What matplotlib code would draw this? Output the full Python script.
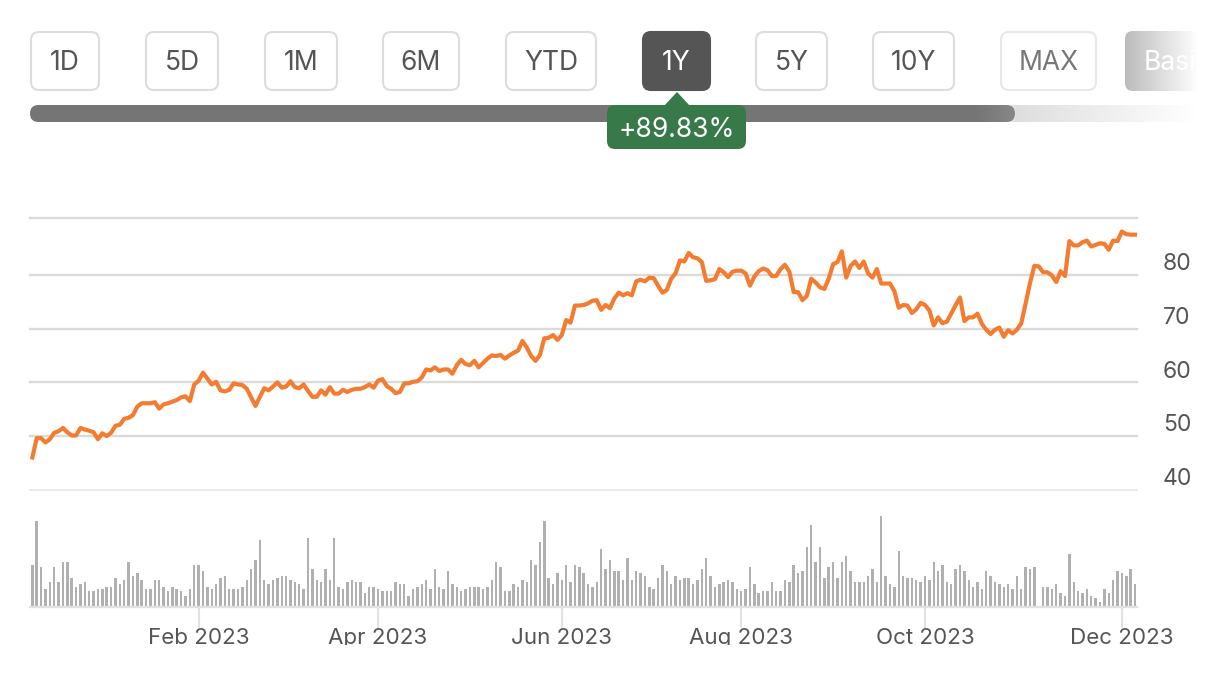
import numpy as np
import matplotlib
matplotlib.use('Agg')
import matplotlib.pyplot as plt
from matplotlib.patches import FancyBboxPatch, Polygon
from matplotlib.transforms import Bbox, ScaledTranslation

plt.rcParams['font.family'] = ['Inter', 'DejaVu Sans']

W, H = 1228, 674

close = [
    46.0, 49.6, 49.6, 48.8, 49.4, 50.6, 50.9, 51.5, 50.7, 50.1, 50.1, 51.5, 51.2, 51.0, 50.7, 49.4, 50.5,
    50.0, 50.6, 51.9, 52.1, 53.2, 53.4, 53.9, 55.5, 56.1, 56.1, 56.1, 56.3, 55.1, 55.9, 56.1, 56.4, 56.7,
    57.2, 57.4, 56.5, 59.6, 60.3, 61.8, 60.7, 59.6, 60.1, 58.5, 58.3, 58.6, 59.8, 59.6, 59.5, 58.8, 57.2,
    55.6, 57.3, 58.9, 58.5, 59.2, 60.0, 59.0, 59.2, 60.2, 59.1, 58.9, 59.6, 58.4, 57.3, 57.3, 58.5,
    57.7, 59.1, 57.9, 57.9, 58.6, 58.2, 58.6, 58.8, 58.8, 59.1, 59.6, 59.0, 60.3, 60.6, 59.3, 58.8, 58.0,
    58.2, 59.8, 59.8, 60.1, 60.2, 60.9, 62.4, 62.2, 62.8, 62.1, 62.4, 62.4, 61.6, 63.2, 64.2, 63.4, 63.2,
    64.0, 62.8, 63.6, 64.4, 65.0, 64.9, 65.1, 64.4, 65.0, 65.5, 65.9, 67.7, 66.5, 64.9, 64.0, 65.1, 68.2,
    68.3, 68.8, 67.9, 68.8, 71.6, 71.1, 74.3, 74.3, 74.4, 74.7, 75.2, 75.3, 73.5,
    74.4, 73.8, 75.6, 76.7, 76.2, 76.6, 76.2, 78.8, 79.1, 78.8, 79.5, 79.4, 78.0, 76.7, 77.2, 79.3, 80.3,
    82.7, 82.5, 84.1, 83.3, 83.1, 82.4, 78.9, 79.0, 79.2, 81.1, 80.5, 79.6, 80.6, 80.8, 80.8, 80.3, 78.0,
    79.7, 80.7, 81.2, 80.9, 79.8, 79.8, 81.1, 81.9, 80.6, 76.8, 76.8, 75.3, 76.1, 79.3, 78.6, 77.7, 77.4,
    79.3, 82.0, 82.4, 84.4, 79.5, 81.7, 82.5, 81.3, 82.5, 80.3, 79.5, 81.1, 78.4, 78.4, 78.4, 77.0, 73.9,
    74.4, 74.3, 72.9, 73.6, 74.8, 74.4, 73.4, 70.6, 72.1, 71.0, 71.3, 72.8, 74.4, 75.8, 71.4, 72.1, 72.1,
    72.8, 70.9, 69.8, 69.0, 69.8, 70.2, 68.5, 69.7, 69.1, 69.8, 71.0, 74.7, 78.5, 81.7, 81.6, 80.5, 80.5,
    79.9, 78.7, 80.7, 79.8, 86.3, 85.5, 85.5, 86.1, 86.4, 85.3, 85.6, 85.9, 85.8, 84.7, 86.4, 86.3, 88.1,
    87.6, 87.5, 87.5,
]

volume = [
    125, 258, 120, 53, 73, 120, 73, 133, 133, 86, 60, 67, 73, 47, 47, 53, 53, 60, 60, 86, 67, 80, 133, 93,
    100, 80, 53, 53, 80, 80, 60, 47, 60, 53, 47, 33, 53, 126, 126, 106, 60, 53, 67, 86, 93, 53, 53, 53, 60,
    80, 113, 140, 199, 80, 67, 80, 86, 93, 93, 80, 73, 67, 53, 206, 113, 80,
    73, 113, 80, 206, 60, 53, 73, 80, 73, 73, 40, 60, 60, 53, 47, 47, 47, 73, 67, 67, 33, 53, 60, 67, 80,
    53, 113, 60, 53, 106, 67, 60, 47, 53, 60, 60, 60, 53, 60, 80, 133, 120, 47, 47, 67, 60, 80, 73, 140,
    126, 193, 258, 86, 67, 100, 80, 126, 73, 126, 120, 100, 67, 60, 73, 173, 113, 140, 106, 106,
    80, 146, 80, 106, 100, 93, 60, 53, 86, 126, 106, 67, 93, 80, 86, 86, 67, 80, 113, 146, 93, 60, 67, 73,
    80, 73, 53, 47, 53, 120, 67, 40, 47, 47, 73, 47, 47, 80, 73, 126, 100, 106, 179, 245, 133, 179, 86, 120,
    133, 86, 133, 153, 106, 73, 73, 73, 93, 113, 73, 271, 93, 67, 60, 166, 93, 86, 86, 80, 73,
    93, 80, 133, 106, 126, 73, 67, 113, 126, 106, 80, 60, 73, 53, 106, 93, 73, 67, 60, 67, 53, 93, 53, 120,
    113, 120, 0, 60, 60, 53, 67, 40, 33, 159, 73, 47, 40, 53, 33, 27, 13, 53, 40, 80, 106, 100, 93, 113, 67,
]

# the top gridline sits a bit above 90 in the original
price_ticks = [40, 50, 60, 70, 80, 90.7]
price_labels = ['40', '50', '60', '70', '80', '']
month_ticks = [38, 79, 121, 162, 204, 249]
month_labels = ['Feb 2023', 'Apr 2023', 'Jun 2023', 'Aug 2023', 'Oct 2023', 'Dec 2023']

range_names = ['1D', '5D', '1M', '6M', 'YTD', '1Y', '5Y', '10Y', 'MAX']
range_left = [30, 145, 264, 382, 505, 642, 755, 872, 1000]
range_right = [100, 219, 338, 460, 597, 711, 828, 955, 1097]
selected = '1Y'
change_text = '+89.83%'

TEXT = '#555555'
GRID = '#dadada'
ORANGE = '#f47c30'
GREEN = '#38794a'


def px_rect(x0, y0, x1, y1):
    return [x0 / W, 1 - y1 / H, (x1 - x0) / W, (y1 - y0) / H]


def gradient(ax, extent, rgb, a0, a1, zorder):
    grad = np.zeros((1, 256, 4))
    grad[..., :3] = rgb
    grad[..., 3] = np.linspace(a0, a1, 256)
    return ax.imshow(grad, extent=extent, aspect='auto', zorder=zorder, interpolation='bilinear')


fig = plt.figure(figsize=(W / 100, H / 100), dpi=100, facecolor='white')
xlim = (-0.53, 252.45)

# price panel
ax = fig.add_axes(px_rect(30, 217.5, 1137, 489.7))
ax.patch.set_alpha(0)
ax.set_xlim(*xlim)
ax.set_ylim(40, 90.7)
ax.plot(range(len(close)), close, color=ORANGE, lw=3.0, solid_joinstyle='round', zorder=3, clip_on=False)
for s in ax.spines.values():
    s.set_visible(False)
ax.set_xticks([])
ax.yaxis.tick_right()
ax.set_yticks(price_ticks)
ax.set_yticklabels(price_labels)
ax.tick_params(axis='y', length=0, pad=18.5, labelsize=16.5, labelcolor=TEXT)
ax.grid(axis='y', color=GRID, lw=1.7, zorder=1)
for line in ax.get_ygridlines():
    line.set_clip_on(False)
ax.get_ygridlines()[0].set_color('#e6e6e6')
ax.get_ygridlines()[0].set_linewidth(1.2)
shift = ScaledTranslation(0, 9.5 / 72, fig.dpi_scale_trans)
for lab in ax.get_yticklabels():
    lab.set_transform(lab.get_transform() + shift)

# volume panel
vax = fig.add_axes(px_rect(30, 505, 1137, 606.5))
vax.patch.set_alpha(0)
vax.bar(range(len(volume)), volume, width=0.56, color='#b0b0b0', zorder=2)
vax.set_xlim(*xlim)
vax.set_ylim(0, 304.5)
vax.set_yticks([])
for name in ['top', 'left', 'right']:
    vax.spines[name].set_visible(False)
vax.spines['bottom'].set_color('#e2e2e2')
vax.spines['bottom'].set_linewidth(1.7)
vax.set_xticks(month_ticks)
vax.set_xticklabels(month_labels)
vax.tick_params(axis='x', length=15, width=1.5, color='#e2e2e2', pad=0.5, labelsize=16.1, labelcolor=TEXT)
# labels are cut off at the bottom in the original
cut = Bbox([[0, H - 645], [W, H]])
for lab in vax.get_xticklabels():
    lab.set_clip_box(cut)
    lab.set_clip_on(True)

# range selector, slider and badge
ui = fig.add_axes([0, 0, 1, 1])
ui.axis('off')

gradient(ui, (1000, 1197, 122, 105), (0.86, 0.86, 0.86), 1, 0, 1)
ui.add_patch(FancyBboxPatch((30, 105), 985, 17, boxstyle='round,pad=0,rounding_size=8.5', lw=0, fc='#757575', zorder=2))
gradient(ui, (975, 1016, 122, 105), (1, 1, 1), 0, 0.14, 2.5)

for name, x0, x1 in zip(range_names, range_left, range_right):
    active = name == selected
    fade = name == 'MAX'
    ui.add_patch(FancyBboxPatch((x0 + 1, 32), x1 - x0 - 2, 58, boxstyle='round,pad=0,rounding_size=8',
                                lw=1.5, ec='#555555' if active else ('#e8e8e8' if fade else '#dddddd'),
                                fc='#555555' if active else 'white', zorder=3))
    ui.text((x0 + x1) / 2, 63.5, name, ha='center', va='center', fontsize=19,
            color='white' if active else ('#777777' if fade else TEXT), zorder=4)

ui.add_patch(FancyBboxPatch((1125, 31), 90, 60, boxstyle='round,pad=0,rounding_size=8', lw=0, fc='#b8b8b8', zorder=3))
ui.text(1144, 63.5, 'Basic', ha='left', va='center', fontsize=19, color='white', zorder=4)
gradient(ui, (1125, 1198, 92, 30), (1, 1, 1), 0.05, 1, 5)
ui.fill_between([1197, 1228], 30, 92, color='white', lw=0, zorder=5)

ui.add_patch(Polygon([[664, 106], [677, 92], [690, 106]], closed=True, fc=GREEN, lw=0, zorder=6))
ui.add_patch(FancyBboxPatch((607, 105), 139, 44, boxstyle='round,pad=0,rounding_size=8', lw=0, fc=GREEN, zorder=6))
ui.text(676.5, 130, change_text, ha='center', va='center', fontsize=19, color='white', zorder=7)

ui.set_xlim(0, W)
ui.set_ylim(H, 0)

fig.savefig('out.png', dpi=100)
